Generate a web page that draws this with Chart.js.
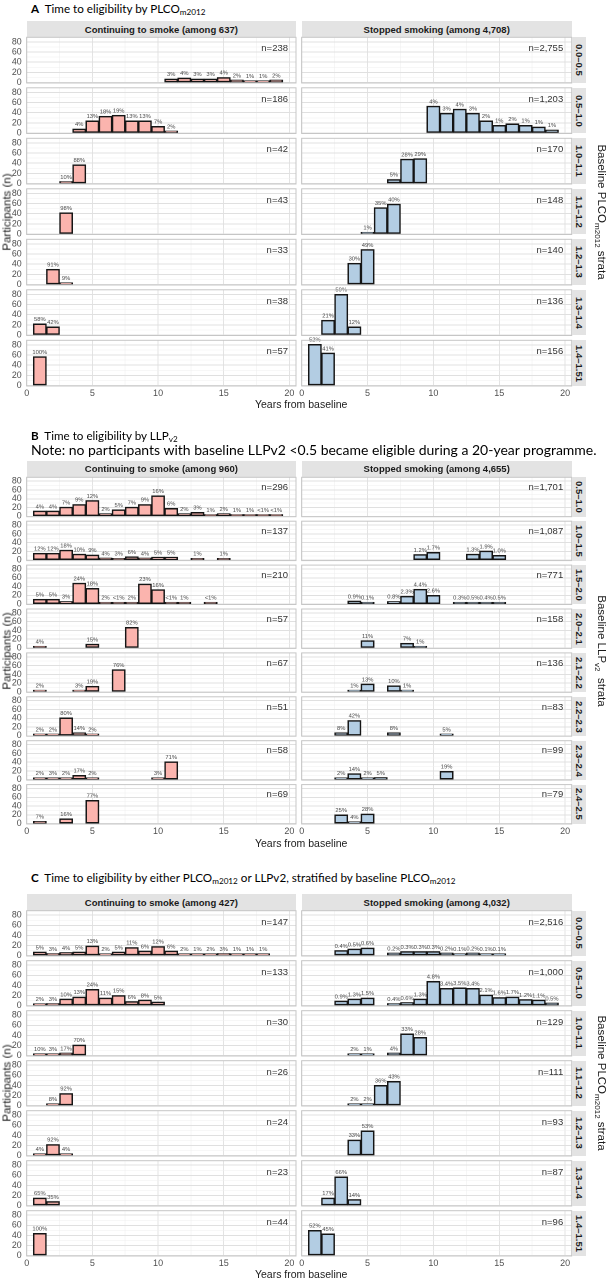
<!DOCTYPE html>
<html>
<head>
<meta charset="utf-8">
<script src="https://cdn.jsdelivr.net/npm/chart.js@4.4.1/dist/chart.umd.min.js"></script>
<style>
  html, body { margin:0; padding:0; background:#ffffff; }
  body { width:612px; height:1280px; position:relative; overflow:hidden; font-family:"Liberation Sans", Arial, sans-serif; }
  .abs { position:absolute; }
  .ptitle { font-family: Lato, "Open Sans", sans-serif; font-size:13px; line-height:16px; color:#000; white-space:nowrap; }
  .ptitle b { font-weight:bold; }
  .ptitle sub { font-size:70%; vertical-align:-0.3em; line-height:0; }
  .rot sub { font-size:70%; vertical-align:-0.3em; line-height:0; }
  .hdr { background:#e3e3e3; font-weight:bold; font-size:9.5px; color:#1a1a1a; display:flex; align-items:center; justify-content:center; white-space:nowrap; }
  .strip { background:#e3e3e3; display:flex; align-items:center; justify-content:center; }
  .strip span { writing-mode: vertical-rl; font-weight:bold; font-size:9.5px; color:#1a1a1a; white-space:nowrap; }
  .nlab { font-size:9.5px; color:#333; white-space:nowrap; transform:translate(-100%,-50%); line-height:11px; }
  .rot { white-space:nowrap; font-size:11.5px; color:#1a1a1a; line-height:13px; }
  .xt { white-space:nowrap; font-size:10.5px; color:#1a1a1a; line-height:12px; }
  canvas { position:absolute; }
</style>
</head>
<body>
<script>
// ---------------- DATA ----------------
const strataPLCO = ['0.0–0.5','0.5–1.0','1.0–1.1','1.1–1.2','1.2–1.3','1.3–1.4','1.4–1.51'];
const strataLLP  = ['0.5–1.0','1.0–1.5','1.5–2.0','2.0–2.1','2.1–2.2','2.2–2.3','2.3–2.4','2.4–2.5'];
const yTickLabels = [0, 20, 40, 60, 80];
const xTickLabels = [0, 5, 10, 15, 20];

// Panel A – PLCOm2012
const A_contTotal = 637, A_stopTotal = 4708;
const A_contN = [238, 186, 42, 43, 33, 38, 57];
const A_contYears  = [[11,12,13,14,15,16,17,18,19],[4,5,6,7,8,9,10,11],[3,4],[3],[2,3],[1,2],[1]];
const A_contCounts = [[7,9,7,7,10,5,3,3,5],[8,24,33,35,24,24,13,4],[4,37],[42],[30,3],[22,16],[57]];
const A_contPct = [['3%','4%','3%','3%','4%','2%','1%','1%','2%'],['4%','13%','18%','19%','13%','13%','7%','2%'],['10%','88%'],['98%'],['91%','9%'],['58%','42%'],['100%']];
const A_stopN = [2755, 1203, 170, 148, 140, 136, 156];
const A_stopYears  = [[],[10,11,12,13,14,15,16,17,18,19],[7,8,9],[5,6,7],[4,5],[2,3,4],[1,2]];
const A_stopCounts = [[],[53,39,47,39,24,15,18,15,12,6],[8,48,49],[1,52,59],[42,69],[29,80,16],[81,64]];
const A_stopPct = [[],['4%','3%','4%','3%','2%','1%','2%','1%','1%','1%'],['5%','28%','29%'],['1%','35%','40%'],['30%','49%'],['21%','59%','12%'],['52%','41%']];

// Panel B – LLPv2
const B_contTotal = 960, B_stopTotal = 4655;
const B_contN = [296, 137, 210, 57, 67, 51, 58, 69];
const B_contYears  = [[1,2,3,4,5,6,7,8,9,10,11,12,13,14,15,16,17,18,19],[1,2,3,4,5,6,7,8,9,10,11,13,15],[1,2,3,4,5,6,7,8,9,10,11,12,14],[1,5,8],[1,4,5,7],[1,2,3,4,5],[1,2,3,4,5,10,11],[1,3,5]];
const B_contCounts = [[12,12,21,27,36,6,15,21,27,47,18,6,9,3,6,3,3,1,1],[16,16,23,14,12,5,4,8,5,7,7,1,1],[11,11,6,48,36,4,1,4,46,33,1,2,1],[2,9,47],[1,2,13,51],[1,1,41,7,1],[1,2,1,10,1,2,41],[5,11,53]];
const B_contPct = [['4%','4%','7%','9%','12%','2%','5%','7%','9%','16%','6%','2%','3%','1%','2%','1%','1%','<1%','<1%'],['12%','12%','18%','10%','9%','4%','3%','6%','4%','5%','5%','1%','1%'],['5%','5%','3%','24%','18%','2%','<1%','2%','23%','16%','<1%','1%','<1%'],['4%','15%','82%'],['2%','3%','19%','76%'],['2%','2%','80%','14%','2%'],['2%','3%','2%','17%','2%','3%','71%'],['7%','16%','77%']];
const B_stopN = [1701, 1087, 771, 158, 136, 83, 99, 79];
const B_stopYears  = [[],[9,10,13,14,15],[4,5,7,8,9,10,12,13,14,15],[5,8,9],[4,5,7,8],[3,4,7,11],[3,4,5,6,11],[3,4,5]];
const B_stopCounts = [[],[13,18,14,21,11],[7,1,6,18,34,20,2,4,3,4],[17,11,2],[1,18,14,1],[7,35,7,4],[2,14,2,5,19],[20,3,22]];
const B_stopPct = [[],['1.2%','1.7%','1.3%','1.9%','1.0%'],['0.9%','0.1%','0.8%','2.3%','4.4%','2.6%','0.3%','0.5%','0.4%','0.5%'],['11%','7%','1%'],['1%','13%','10%','1%'],['8%','42%','8%','5%'],['2%','14%','2%','5%','19%'],['25%','4%','28%']];

// Panel C – either model, by PLCOm2012 strata
const C_contTotal = 427, C_stopTotal = 4032;
const C_contN = [147, 133, 30, 26, 24, 23, 44];
const C_contYears  = [[1,2,3,4,5,6,7,8,9,10,11,12,13,14,15,16,17,18],[1,2,3,4,5,6,7,8,9,10],[1,2,3,4],[2,3],[1,2,3],[1,2],[1]];
const C_contCounts = [[7,4,6,7,19,3,7,16,9,18,9,3,1,3,4,1,1,1],[3,4,13,17,32,15,20,8,11,7],[3,1,5,21],[2,24],[1,22,1],[15,8],[44]];
const C_contPct = [['5%','3%','4%','5%','13%','2%','5%','11%','6%','12%','6%','2%','1%','2%','3%','1%','1%','1%'],['2%','3%','10%','13%','24%','11%','15%','6%','8%','5%'],['10%','3%','17%','70%'],['8%','92%'],['4%','92%','4%'],['65%','35%'],['100%']];
const C_stopN = [2516, 1000, 129, 111, 93, 87, 96];
const C_stopYears  = [[3,4,5,7,8,9,10,11,12,13,14,15],[3,4,5,7,8,9,10,11,12,13,14,15,16,17,18,19],[4,5,7,8,9],[4,5,6,7],[4,5],[2,3,4],[1,2]];
const C_stopCounts = [[10,13,15,5,8,8,8,5,3,5,3,3],[9,13,15,4,6,13,48,34,35,34,21,16,17,12,11,5],[3,1,5,43,36],[2,2,40,48],[31,49],[15,57,12],[50,43]];
const C_stopPct = [['0.4%','0.5%','0.6%','0.2%','0.3%','0.3%','0.3%','0.2%','0.1%','0.2%','0.1%','0.1%'],['0.9%','1.3%','1.5%','0.4%','0.6%','1.3%','4.8%','3.4%','3.5%','3.4%','2.1%','1.6%','1.7%','1.2%','1.1%','0.5%'],['2%','1%','4%','33%','28%'],['2%','2%','36%','43%'],['33%','53%'],['17%','66%','14%'],['52%','45%']];

// ---------------- LAYOUT / STYLE ----------------
const LEFT_X0 = 26.7, LEFT_X1 = 296.0, RIGHT_X0 = 301.7, RIGHT_X1 = 571.7;
const STRIP_X0 = 572.3, STRIP_W = 13.5;
const X_MIN = 0, X_MAX = 20.5, Y_MIN = -1, Y_MAX = 89;
const N_LABEL_Y = 69;
const FILL_CONT = '#FBB4AE', FILL_STOP = '#B3CDE3', BAR_EDGE = '#151515';
const GRID_MAJOR = '#e0e0e0', GRID_MINOR = '#f0f0f0', PANEL_BORDER = '#c6c6c6';
const TICK_COLOR = '#4d4d4d';
const TITLE_REF_W = 425;   // width of the longest panel title (C)
const NOTE_W = 566;

Chart.defaults.font.family = "'Liberation Sans', Arial, sans-serif";

const panelDefs = [
  { title: '<b>A</b>&nbsp; Time to eligibility by PLCO<sub>m2012</sub>', titleTop: 0,
    note: null, hdrTop: 21, rowTop0: 37.3, rowH: 45.7, pitch: 50.5, strata: strataPLCO,
    rightLabel: 'Baseline PLCO<sub>m2012</sub> strata', axisY: 404,
    cont: { total: A_contTotal, n: A_contN, yrs: A_contYears, cnt: A_contCounts, pct: A_contPct },
    stop: { total: A_stopTotal, n: A_stopN, yrs: A_stopYears, cnt: A_stopCounts, pct: A_stopPct } },
  { title: '<b>B</b>&nbsp; Time to eligibility by LLP<sub>v2</sub>', titleTop: 427,
    note: 'Note: no participants with baseline LLPv2 &lt;0.5 became eligible during a 20-year programme.', noteTop: 442,
    hdrTop: 460.7, rowTop0: 477.3, rowH: 39.4, pitch: 43.9, strata: strataLLP,
    rightLabel: 'Baseline LLP<sub>v2</sub>&nbsp; strata', axisY: 843,
    cont: { total: B_contTotal, n: B_contN, yrs: B_contYears, cnt: B_contCounts, pct: B_contPct },
    stop: { total: B_stopTotal, n: B_stopN, yrs: B_stopYears, cnt: B_stopCounts, pct: B_stopPct } },
  { title: '<b>C</b>&nbsp; Time to eligibility by either PLCO<sub>m2012</sub> or LLPv2, stratified by baseline PLCO<sub>m2012</sub>', titleTop: 868.7,
    note: null, hdrTop: 894, rowTop0: 910.7, rowH: 45.3, pitch: 50.0, strata: strataPLCO,
    rightLabel: 'Baseline PLCO<sub>m2012</sub> strata', axisY: 1274,
    cont: { total: C_contTotal, n: C_contN, yrs: C_contYears, cnt: C_contCounts, pct: C_contPct },
    stop: { total: C_stopTotal, n: C_stopN, yrs: C_stopYears, cnt: C_stopCounts, pct: C_stopPct } }
];

// ---------------- HELPERS ----------------
function addEl(cls, html, css) {
  const d = document.createElement('div');
  d.className = 'abs ' + cls;
  d.innerHTML = html;
  Object.assign(d.style, css);
  document.body.appendChild(d);
  return d;
}
const fmt = v => v.toLocaleString('en-US');

const pctPlugin = {
  id: 'pctLabels',
  afterDatasetsDraw(chart) {
    const ds = chart.data.datasets[0];
    const meta = chart.getDatasetMeta(0);
    const ctx = chart.ctx;
    ctx.save();
    ctx.font = "5.8px 'Liberation Sans', Arial, sans-serif";
    ctx.fillStyle = '#444';
    ctx.textAlign = 'center';
    ctx.textBaseline = 'bottom';
    meta.data.forEach((bar, i) => { ctx.fillText(ds.pctLabels[i], bar.x, bar.y - 1.4); });
    ctx.restore();
  }
};
const borderPlugin = {
  id: 'panelBorder',
  afterDraw(chart) {
    const a = chart.chartArea, ctx = chart.ctx;
    ctx.save();
    ctx.strokeStyle = PANEL_BORDER;
    ctx.lineWidth = 1;
    ctx.strokeRect(a.left, a.top, a.right - a.left, a.bottom - a.top);
    ctx.restore();
  }
};

function makePanelChart(isLeft, isBottom, rowTop, rowH, years, counts, pcts) {
  const x0 = isLeft ? LEFT_X0 : RIGHT_X0, x1 = isLeft ? LEFT_X1 : RIGHT_X1;
  const cLeft = isLeft ? 0 : 290;
  const cRight = isLeft ? 299 : 575;
  const xAxisH = isBottom ? 14 : 0;
  const cTop = Math.floor(rowTop - 12);
  const rowBottom = rowTop + rowH;
  const cBottom = Math.ceil(rowBottom + 12 + xAxisH);
  const W = cRight - cLeft, H = cBottom - cTop;
  const cv = document.createElement('canvas');
  cv.width = W; cv.height = H;
  Object.assign(cv.style, { left: cLeft + 'px', top: cTop + 'px', width: W + 'px', height: H + 'px' });
  document.body.appendChild(cv);
  const pxPerYear = (x1 - x0) / (X_MAX - X_MIN);
  const yAxisW = isLeft ? (x0 - cLeft) : 0;
  new Chart(cv, {
    type: 'bar',
    data: { datasets: [{
      data: years.map((x, i) => ({ x: x, y: counts[i] })),
      pctLabels: pcts,
      backgroundColor: isLeft ? FILL_CONT : FILL_STOP,
      borderColor: BAR_EDGE, borderWidth: 1.5, borderSkipped: false,
      barThickness: pxPerYear, minBarLength: 1.8
    }] },
    options: {
      responsive: false, animation: false, events: [], devicePixelRatio: 2,
      layout: { padding: { left: isLeft ? 0 : (x0 - cLeft), right: cRight - x1, top: rowTop - cTop, bottom: cBottom - rowBottom - xAxisH } },
      plugins: { legend: { display: false }, tooltip: { enabled: false }, title: { display: false } },
      scales: {
        x: {
          type: 'linear', min: X_MIN, max: X_MAX, offset: false,
          afterBuildTicks: s => { s.ticks = [0, 2.5, 5, 7.5, 10, 12.5, 15, 17.5, 20].map(v => ({ value: v })); },
          afterFit: s => { s.height = xAxisH; },
          grid: { offset: false, drawTicks: false,
            color: c => (c.tick && c.tick.value % 5 === 0) ? GRID_MAJOR : GRID_MINOR,
            lineWidth: c => (c.tick && c.tick.value % 5 === 0) ? 0.9 : 0.6 },
          border: { display: false },
          ticks: { display: isBottom, autoSkip: false, maxRotation: 0, minRotation: 0, padding: 2,
            color: TICK_COLOR, font: { size: 9 },
            callback: v => xTickLabels.includes(v) ? String(v) : '' }
        },
        y: {
          type: 'linear', min: Y_MIN, max: Y_MAX,
          afterBuildTicks: s => { s.ticks = [0, 10, 20, 30, 40, 50, 60, 70, 80].map(v => ({ value: v })); },
          afterFit: s => { s.width = yAxisW; },
          grid: { drawTicks: false,
            color: c => (c.tick && c.tick.value % 20 === 0) ? GRID_MAJOR : GRID_MINOR,
            lineWidth: c => (c.tick && c.tick.value % 20 === 0) ? 0.9 : 0.6 },
          border: { display: false },
          ticks: { display: isLeft, autoSkip: false, padding: 5, color: TICK_COLOR, font: { size: 8.8 },
            callback: v => yTickLabels.includes(v) ? String(v) : '' }
        }
      }
    },
    plugins: [pctPlugin, borderPlugin]
  });
}

// ---------------- BUILD ----------------
const titleEls = [];
let noteEl = null;
panelDefs.forEach(p => {
  titleEls.push(addEl('ptitle', p.title, { left: '31px', top: p.titleTop + 'px' }));
  if (p.note) noteEl = addEl('ptitle', p.note, { left: '31px', top: p.noteTop + 'px' });
  const hdrH = p.rowTop0 - p.hdrTop;
  addEl('hdr', 'Continuing to smoke (among ' + fmt(p.cont.total) + ')',
    { left: LEFT_X0 + 'px', top: p.hdrTop + 'px', width: (LEFT_X1 - LEFT_X0) + 'px', height: hdrH + 'px' });
  addEl('hdr', 'Stopped smoking (among ' + fmt(p.stop.total) + ')',
    { left: RIGHT_X0 + 'px', top: p.hdrTop + 'px', width: (RIGHT_X1 - RIGHT_X0) + 'px', height: hdrH + 'px' });

  const nRows = p.strata.length;
  for (let r = 0; r < nRows; r++) {
    const top = p.rowTop0 + r * p.pitch;
    const isBottom = r === nRows - 1;
    makePanelChart(true, isBottom, top, p.rowH, p.cont.yrs[r], p.cont.cnt[r], p.cont.pct[r]);
    makePanelChart(false, isBottom, top, p.rowH, p.stop.yrs[r], p.stop.cnt[r], p.stop.pct[r]);
    const nY = top + (Y_MAX - N_LABEL_Y) * p.rowH / (Y_MAX - Y_MIN);
    addEl('nlab', 'n=' + fmt(p.cont.n[r]), { left: (LEFT_X1 - 8) + 'px', top: nY + 'px' });
    addEl('nlab', 'n=' + fmt(p.stop.n[r]), { left: (RIGHT_X1 - 8.5) + 'px', top: nY + 'px' });
    addEl('strip', '<span>' + p.strata[r] + '</span>',
      { left: STRIP_X0 + 'px', top: top + 'px', width: STRIP_W + 'px', height: p.rowH + 'px' });
  }
  const yMid = (p.rowTop0 + (nRows - 1) * p.pitch + p.rowH + p.rowTop0) / 2;
  addEl('rot', 'Participants (n)', { left: '7px', top: yMid + 'px', transform: 'translate(-50%,-50%) rotate(-90deg)' });
  addEl('rot', p.rightLabel, { left: '601px', top: yMid + 'px', transform: 'translate(-50%,-50%) rotate(90deg)' });
  addEl('xt', 'Years from baseline', { left: ((LEFT_X0 + RIGHT_X1) / 2 + 2) + 'px', top: p.axisY + 'px', transform: 'translate(-50%,-50%)' });
});

function fitTitles() {
  const base = 13;
  titleEls.forEach(el => el.style.fontSize = base + 'px');
  noteEl.style.fontSize = base + 'px';
  const wC = titleEls[2].getBoundingClientRect().width;
  const fsT = base * TITLE_REF_W / wC;
  titleEls.forEach(el => el.style.fontSize = fsT + 'px');
  const wN = noteEl.getBoundingClientRect().width;
  noteEl.style.fontSize = (base * NOTE_W / wN) + 'px';
}
fitTitles();
if (document.fonts && document.fonts.ready) {
  document.fonts.ready.then(() => { fitTitles(); requestAnimationFrame(fitTitles); });
}
</script>
</body>
</html>
